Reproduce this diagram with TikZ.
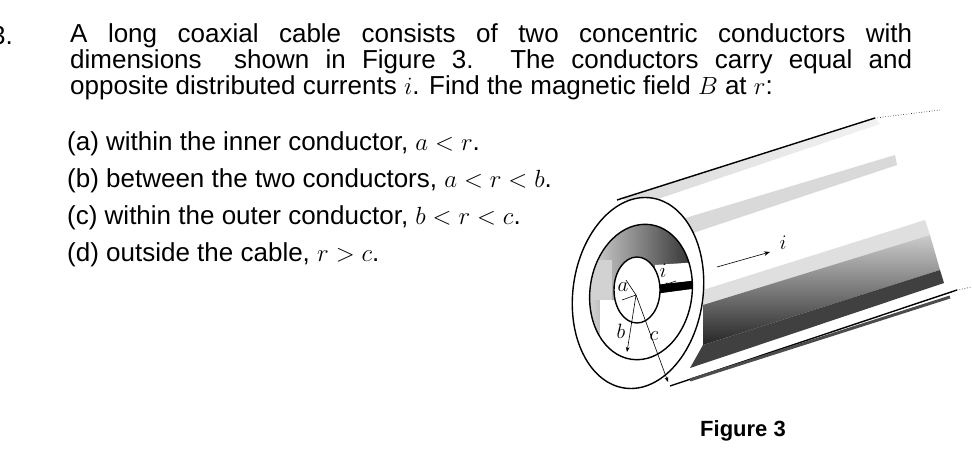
\documentclass[tikz,border=0pt]{standalone}
\usepackage{fontspec}
\setmainfont{Liberation Sans}
\usetikzlibrary{arrows.meta}
\begin{document}
\begin{tikzpicture}[x=1pt,y=-1pt,
  txt/.style={anchor=west,inner sep=0pt,font=\fontsize{26}{26}\selectfont},
  ml/.style={font=\fontsize{20}{20}\selectfont,inner sep=1pt},
  edge/.style={line width=1.4pt},
  thin/.style={line width=0.6pt}]
\useasboundingbox (0,0) rectangle (972,466);
\fill[white] (0,0) rectangle (972,466);
\node[txt] (n) at (-9,36) {3.};
\node[txt] (p1) at (70,36) {\makebox[842pt][s]{A long coaxial cable consists of two concentric conductors with}};
\node[txt] (p2) at (70,62) {\makebox[842pt][s]{dimensions \ shown in Figure 3. The conductors carry equal and}};
\node[txt] (p3) at (70,88) {opposite distributed currents $i$. Find the magnetic field $B$ at $r$:};
\node[txt] (ia) at (67,144) {(a) within the inner conductor, $a<r$.};
\node[txt] (ib) at (67,181) {(b) between the two conductors, $a<r<b$.};
\node[txt] (ic) at (67,218) {(c) within the outer conductor, $b<r<c$.};
\node[txt] (id) at (67,255) {(d) outside the cable, $r>c$.};
% body
\fill[white] (617,200) -- (875,118) -- (957,290) -- (670,386) -- cycle;
\fill[gray!30] (672,222) -- (895,155) -- (897,165) -- (690,234) -- cycle;
\fill[gray!25] (703,290) -- (925,220) -- (930,235) -- (703,305) -- cycle;
\shade[top color=gray!40,bottom color=black!85] (703,305) -- (930,235) -- (940,270) -- (703,345) -- cycle;
\fill[black!75] (703,345) -- (940,270) -- (944,283) -- (690,368) -- cycle;
\shade[left color=gray!30,right color=gray!10] (620,198) -- (875,118) -- (880,124) -- (640,205) -- cycle;
\draw[edge] (617,200) -- (875,118);
\draw[thin,dotted] (875,118) -- (940,110);
\draw[edge] (670,386) -- (957,290);
\draw[line width=3pt,black!70] (690,380) -- (950,297);
\draw[thin,dotted] (957,290) -- (972,287);
% end face
\draw[edge,fill=white,rotate around={-8:(638,293)}] (638,293) ellipse [x radius=65,y radius=96];
\begin{scope}
\clip[rotate around={-8:(641,292)}] (641,292) ellipse [x radius=51,y radius=68];
\shade[left color=gray!30,right color=black!85] (585,220) rectangle (700,365);
\fill[white] (600,300) rectangle (700,365);
\fill[gray!35] (590,260) rectangle (612,300);
\fill[white] (655,265) -- (700,262) -- (700,280) -- (655,285) -- cycle;
\fill[black] (655,285) -- (700,280) -- (700,288) -- (655,294) -- cycle;
\fill[white] (655,294) -- (700,288) -- (700,300) -- (655,305) -- cycle;
\end{scope}
\draw[edge,rotate around={-8:(641,292)}] (641,292) ellipse [x radius=51,y radius=68];
\draw[edge,fill=white] (637,290) ellipse [x radius=23,y radius=33];
% labels
\coordinate (o) at (636,295);
\coordinate (ae) at (626,280);
\draw[thin] (ae) -- (o) -- (622,300);
\draw[thin,-{Stealth[length=5pt]}] (o) -- (627,352);
\draw[thin,-{Stealth[length=5pt]}] (o) -- (668,382);
\node[ml] (la) at (623,287) {$a$};
\node[ml] (lb) at (621,331) {$b$};
\node[ml] (lc) at (654,336) {$c$};
\node[ml] (li2) at (663,271) {$i$};
\coordinate (i2s) at (676,281);
\coordinate (i2e) at (664,285);
\draw[thin,-{Stealth[length=4pt]}] (i2s) -- (i2e);
\coordinate (is) at (717,267);
\coordinate (ie) at (770,252);
\draw[thin,-{Stealth[length=6pt]}] (is) -- (ie);
\node[ml] (li) at (783,243) {$i$};
\node[font=\bfseries\fontsize{22}{24}\selectfont] (fig) at (743,431) {Figure 3};
\end{tikzpicture}
\end{document}
